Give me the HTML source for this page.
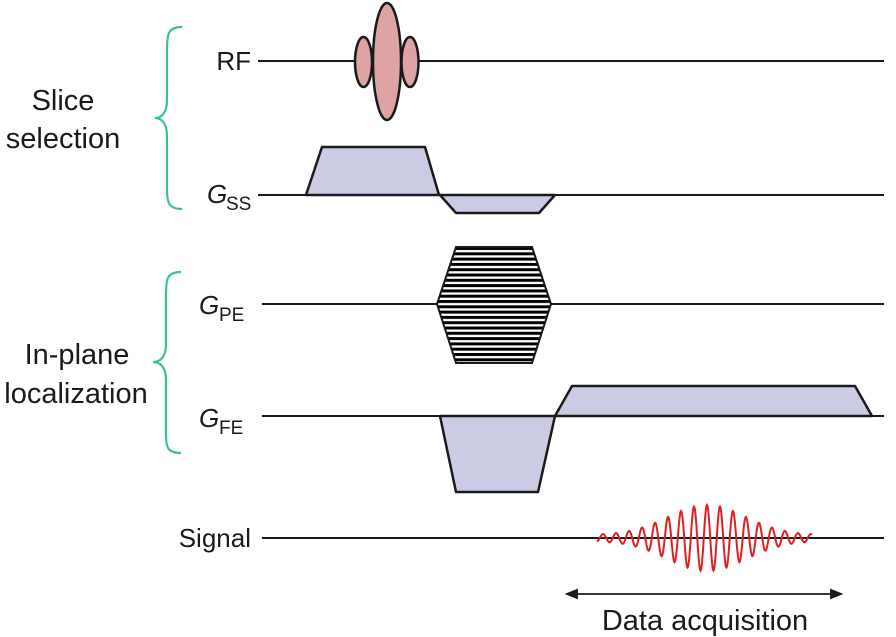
<!DOCTYPE html>
<html><head><style>body{margin:0;background:#fff}svg{display:block}text{font-family:"Liberation Sans",sans-serif;fill:#1a1a1a}</style></head>
<body>
<svg width="896" height="637" viewBox="0 0 896 637" xmlns="http://www.w3.org/2000/svg">
<defs>
<pattern id="st" x="0" y="247" width="10" height="5.3" patternUnits="userSpaceOnUse">
<rect x="0" y="0" width="10" height="3" fill="#000"/>
</pattern>
</defs>
<g stroke="#1a1a1a" stroke-width="2" fill="none">
<line x1="258" y1="61" x2="884" y2="61"/>
<line x1="258" y1="195" x2="884" y2="195"/>
<line x1="262" y1="304" x2="884" y2="304"/>
<line x1="262" y1="416" x2="884" y2="416"/>
<line x1="262" y1="538" x2="884" y2="538"/>
</g>
<g stroke="#1a1a1a" stroke-width="2.5" fill="#dea3a3">
<ellipse cx="363.5" cy="62" rx="8.5" ry="25"/>
<ellipse cx="410" cy="62" rx="8.5" ry="25"/>
<ellipse cx="387" cy="61.5" rx="14" ry="58.5"/>
</g>
<g stroke="#1a1a1a" stroke-width="2.5" fill="#cccbe6" stroke-linejoin="round">
<polygon points="306,195 322,147 425,147 439,195"/>
<polygon points="440,195 456,213 539,213 555,195"/>
<polygon points="440,416 456,492 538,492 555,416"/>
<polygon points="555,416 572,386 855,386 872,416"/>
</g>
<polygon points="456,247 532,247 551,304 532,363 456,363 437,304" fill="#fff"/>
<polygon points="456,247 532,247 551,304 532,363 456,363 437,304" fill="url(#st)" stroke="#1a1a1a" stroke-width="2"/>
<path id="w" fill="none" stroke="#e02020" stroke-width="2"/>
<g stroke="#1a1a1a" stroke-width="1.8" fill="#1a1a1a">
<line x1="572" y1="594" x2="836" y2="594"/>
<polygon points="567,594 577,590 577,598"/>
<polygon points="841,594 831,590 831,598"/>
</g>
<text x="705" y="630" font-size="29" text-anchor="middle">Data acquisition</text>
<g fill="none" stroke="#3cbf99" stroke-width="2.2">
<path d="M182,27 C168,27 167,34 167,50 L167,100 C167,112 162,118 155,118 C162,118 167,124 167,136 L167,190 C167,204 170,209 182,209"/>
<path d="M181,272 C167,272 166,279 166,295 L166,344 C166,356 161,362 153,362 C161,362 166,368 166,380 L166,435 C166,449 169,453 181,453"/>
</g>
<g font-size="29" text-anchor="middle">
<text x="63" y="110">Slice</text>
<text x="63" y="148">selection</text>
<text x="77" y="364">In-plane</text>
<text x="76" y="403">localization</text>
</g>
<g font-size="26">
<text x="251" y="70" text-anchor="end">RF</text>
<text x="207" y="203" font-style="italic">G</text><text x="226" y="210" font-size="19">SS</text>
<text x="199" y="314" font-style="italic">G</text><text x="219" y="321" font-size="19">PE</text>
<text x="199" y="427" font-style="italic">G</text><text x="219" y="434" font-size="19">FE</text>
<text x="251" y="547" text-anchor="end">Signal</text>
</g>
<script>
var d="";for(var x=597;x<=812;x+=0.5){var t=x-707;var a=30*Math.exp(-Math.pow(t/55,2))+3;var y=538-a*Math.cos(2*Math.PI*t/13);d+=(x==597?"M":"L")+x+","+y.toFixed(2);}
document.getElementById("w").setAttribute("d",d);
</script>
</svg>
</body></html>
